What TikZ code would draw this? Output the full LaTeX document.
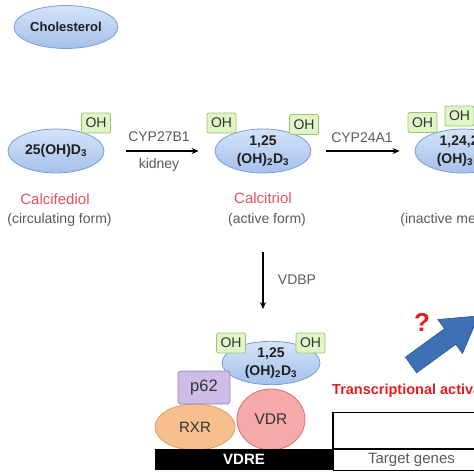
\documentclass[tikz,border=0pt]{standalone}
\usepackage{fontspec}
\setmainfont{Liberation Sans}
\usetikzlibrary{shapes.geometric,arrows.meta}
\definecolor{elltop}{HTML}{D4E3F8}
\definecolor{ellbot}{HTML}{A5C0EC}
\definecolor{elldraw}{HTML}{7C9DD6}
\definecolor{ohfill}{HTML}{E0F5C8}
\definecolor{ohdraw}{HTML}{9CC46C}
\definecolor{txtgray}{HTML}{5A5A5A}
\definecolor{namered}{HTML}{E8505B}
\definecolor{actred}{HTML}{E0201E}
\definecolor{p62fill}{HTML}{CDBDE6}
\definecolor{p62draw}{HTML}{9480C4}
\definecolor{rxrfill}{HTML}{F8BF8E}
\definecolor{rxrdraw}{HTML}{E19A5E}
\definecolor{vdrfill}{HTML}{F6A9A9}
\definecolor{vdrdraw}{HTML}{D86E6E}
\definecolor{bigarrow}{HTML}{3E70B5}
\definecolor{bigarrowdraw}{HTML}{2C5592}
\begin{document}
\begin{tikzpicture}[x=1pt,y=-1pt,
  mol/.style={ellipse, draw=elldraw, line width=0.8pt, top color=elltop, bottom color=ellbot,
    minimum width=96pt, minimum height=44pt, inner sep=0pt, align=center,
    font=\fontsize{14}{18}\selectfont\bfseries, text=black!88},
  ohbox/.style={rectangle, rounded corners=2pt, draw=ohdraw, line width=0.8pt, fill=ohfill,
    minimum width=29pt, minimum height=20pt, inner sep=0pt,
    font=\fontsize{14}{16}\selectfont, text=black!80},
  lbl/.style={font=\fontsize{14}{16}\selectfont, text=txtgray, inner sep=0pt},
  namelbl/.style={font=\fontsize{15}{17}\selectfont, text=namered, inner sep=0pt},
  conn/.style={-{Stealth[length=7pt,width=6pt]}, line width=1.1pt, black}
]
\useasboundingbox (0,0) rectangle (474,474);
\clip (0,0) rectangle (474,474);

% top row
\node[mol, minimum width=104pt, minimum height=43pt, font=\fontsize{13}{16}\selectfont\bfseries] (chol) at (66,27) {Cholesterol};

\node[mol] (d25) at (56,151) {25(OH)D\textsubscript{3}};
\node[ohbox] (oh1) at (96,123) {OH};

\node[mol] (ctr) at (263,151) {1,25\\(OH)\textsubscript{2}D\textsubscript{3}};
\node[ohbox] (oh2) at (221.5,123) {OH};
\node[ohbox] (oh3) at (304,124.5) {OH};

\node[mol] (inact) at (463,151) {1,24,25\\(OH)\textsubscript{3}D\textsubscript{3}};
\node[ohbox] (oh4) at (422.5,122.5) {OH};
\node[ohbox] (oh5) at (459.5,116) {OH};

\draw[conn, shorten <=22pt, shorten >=16pt] (d25) -- (ctr);
\node[lbl] (cyp27) at (159,137) {CYP27B1};
\node[lbl] (kidney) at (159,165) {kidney};

\draw[conn, shorten <=15pt, shorten >=15pt] (ctr) -- (inact);
\node[lbl] (cyp24) at (362,138) {CYP24A1};

\node[namelbl] (calcif) at (55,199) {Calcifediol};
\node[lbl] (circ) at (59.5,220) {(circulating form)};
\node[namelbl] (calcit) at (263,198) {Calcitriol};
\node[lbl] (active) at (267,220) {(active form)};
\node[lbl] (inactlbl) at (463,220) {(inactive metabolite)};

% VDBP
\coordinate (vtop) at (263,252);
\coordinate (vbot) at (263,309);
\draw[conn] (vtop) -- (vbot);
\node[lbl] (vdbp) at (297,280) {VDBP};

% complex
\node[mol, minimum width=98pt, minimum height=42pt] (cplx) at (271,363) {1,25\\(OH)\textsubscript{2}D\textsubscript{3}};
\node[ohbox] (oh6) at (231,343) {OH};
\node[ohbox] (oh7) at (310.5,343) {OH};
\node[ellipse, draw=rxrdraw, line width=0.8pt, fill=rxrfill, minimum width=80pt, minimum height=46pt,
  inner sep=0pt, font=\fontsize{15}{17}\selectfont, text=black!80] (rxr) at (195,427) {RXR};
\node[rectangle, rounded corners=3pt, draw=p62draw, line width=0.8pt, fill=p62fill, minimum width=52pt,
  minimum height=33pt, inner sep=0pt, font=\fontsize{16.5}{18}\selectfont, text=black!80] (p62) at (204,387.5) {p62};
\node[ellipse, draw=vdrdraw, line width=0.8pt, fill=vdrfill, minimum width=68pt, minimum height=61pt,
  inner sep=0pt, font=\fontsize{15.5}{17}\selectfont, text=black!80] (vdr) at (271,419.5) {VDR};
\node[rectangle, fill=black, minimum width=178pt, minimum height=21pt, inner sep=0pt,
  font=\fontsize{15}{17}\selectfont\bfseries, text=white] (vdre) at (244,459.5) {VDRE};

% gene
\node[rectangle, draw=black, line width=1.5pt, minimum width=157pt, minimum height=36.5pt, inner sep=0pt] (gene) at (411.5,430.75) {};
\node[rectangle, draw=black, line width=0.8pt, fill=white, minimum width=157pt, minimum height=21pt, inner sep=0pt,
  font=\fontsize{15}{17}\selectfont, text=txtgray] (target) at (411.5,459.5) {Target genes};

% big arrow
\fill[bigarrow, draw=bigarrowdraw, line width=0.6pt, line join=miter]
  (405.4,357.2) -- (444.6,328.7) -- (437.9,319.5) -- (478.5,315.9) -- (462.5,353.5) -- (455.8,344.3) -- (416.6,372.8) -- cycle;
\node[font=\fontsize{26}{28}\selectfont\bfseries, text=actred, inner sep=0pt] (q) at (422,322) {?};
\node[anchor=west, font=\fontsize{14.5}{16}\selectfont\bfseries, text=actred, inner sep=0pt] (trans) at (332,391) {Transcriptional activation};
\end{tikzpicture}
\end{document}
